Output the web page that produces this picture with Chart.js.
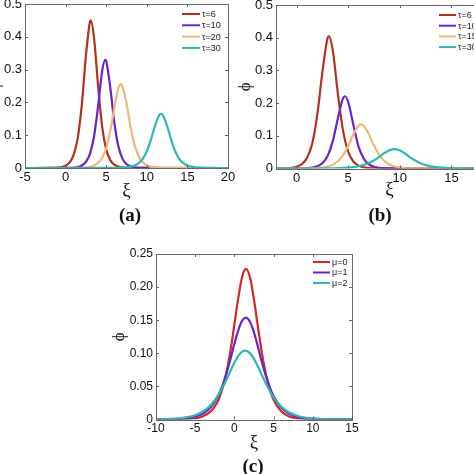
<!DOCTYPE html>
<html>
<head>
<meta charset="utf-8">
<script src="https://cdn.jsdelivr.net/npm/chart.js@4"></script>
<style>
  html, body { margin: 0; padding: 0; width: 474px; height: 474px; overflow: hidden; background: #fff; }
  canvas { position: absolute; }
  .plab { position: absolute; font: bold 19px "Liberation Serif", "Times New Roman", serif; color: #111; transform: translate(-50%, -50%); white-space: nowrap; }
</style>
</head>
<body>
<canvas id="ca" width="280" height="236" style="left:-40px;top:-16px;width:280px;height:236px"></canvas>
<canvas id="cb" width="300" height="236" style="left:216px;top:-16px;width:300px;height:236px"></canvas>
<canvas id="cc" width="280" height="230" style="left:90px;top:234px;width:280px;height:230px"></canvas>
<div class="plab" style="left:130px;top:215px">(a)</div>
<div class="plab" style="left:380px;top:215px">(b)</div>
<div class="plab" style="left:253px;top:466px">(c)</div>
<script>
// ---------- Panel (a) ----------
const aLabels = ["τ=6", "τ=10", "τ=20", "τ=30"];
const aTau6X  = [-5, -2, -1.5, -1, -0.5, 0, 0.5, 1, 1.5, 2, 2.5, 3, 3.1, 3.5, 4, 4.5, 5, 5.5, 6, 6.5, 7, 7.5, 8, 9, 20];
const aTau6Y  = [0, 0.0002, 0.0005, 0.0012, 0.0029, 0.007, 0.017, 0.0405, 0.092, 0.194, 0.342, 0.446, 0.45, 0.397, 0.251, 0.126, 0.056, 0.024, 0.010, 0.0042, 0.0017, 0.0007, 0.0003, 0.0001, 0];
const aTau10X = [-5, 0, 0.5, 1, 1.5, 2, 2.5, 3, 3.5, 4, 4.5, 4.88, 5, 5.5, 6, 6.5, 7, 7.5, 8, 8.5, 9, 10, 11, 20];
const aTau10Y = [0, 0.0002, 0.0005, 0.0013, 0.0032, 0.0077, 0.0184, 0.043, 0.096, 0.187, 0.295, 0.33, 0.326, 0.246, 0.139, 0.066, 0.0287, 0.0121, 0.005, 0.002, 0.0008, 0.0002, 0, 0];
const aTau20X = [-5, 1, 2, 2.5, 3, 3.5, 4, 4.5, 5, 5.5, 6, 6.5, 6.8, 7, 7.5, 8, 8.5, 9, 9.5, 10, 10.5, 11, 12, 13, 20];
const aTau20Y = [0, 0.0002, 0.0008, 0.0016, 0.0035, 0.0074, 0.0151, 0.031, 0.061, 0.112, 0.183, 0.244, 0.256, 0.250, 0.197, 0.125, 0.070, 0.036, 0.0177, 0.0085, 0.0041, 0.0019, 0.0004, 0.0001, 0];
const aTau30X = [-5, 6, 7, 7.5, 8, 8.5, 9, 9.5, 10, 10.5, 11, 11.5, 11.75, 12, 12.5, 13, 13.5, 14, 14.5, 15, 15.5, 16, 16.5, 17.5, 20];
const aTau30Y = [0, 0.0003, 0.001, 0.002, 0.004, 0.0078, 0.015, 0.028, 0.051, 0.086, 0.128, 0.160, 0.165, 0.160, 0.128, 0.086, 0.051, 0.028, 0.015, 0.0078, 0.004, 0.002, 0.001, 0.0003, 0];

// ---------- Panel (b) ----------
const bLabels = ["τ=6", "τ=10", "τ=15", "τ=30"];
const bTau6X  = [-2, -1, -0.5, 0, 0.5, 1, 1.5, 2, 2.5, 3, 3.13, 3.5, 4, 4.5, 5, 5.5, 6, 6.5, 7, 7.5, 8, 20];
const bTau6Y  = [0.0001, 0.0009, 0.0022, 0.0055, 0.0133, 0.032, 0.075, 0.164, 0.296, 0.399, 0.405, 0.362, 0.228, 0.115, 0.0506, 0.0214, 0.0087, 0.0035, 0.0014, 0.0006, 0.0002, 0];
const bTau10X = [-2, 0, 0.5, 1, 1.5, 2, 2.5, 3, 3.5, 4, 4.5, 4.68, 5, 5.5, 6, 6.5, 7, 7.5, 8, 8.5, 9, 10, 20];
const bTau10Y = [0, 0.0002, 0.0004, 0.0011, 0.0027, 0.0067, 0.016, 0.038, 0.083, 0.154, 0.215, 0.221, 0.203, 0.133, 0.067, 0.0305, 0.0126, 0.0052, 0.0021, 0.0008, 0.0003, 0, 0];
const bTau15X = [-2, 1, 1.5, 2, 2.5, 3, 3.5, 4, 4.5, 5, 5.5, 6, 6.26, 6.5, 7, 7.5, 8, 8.5, 9, 9.5, 10, 10.5, 11, 12, 20];
const bTau15Y = [0, 0.0004, 0.0008, 0.0016, 0.0031, 0.0061, 0.0118, 0.0223, 0.041, 0.069, 0.105, 0.131, 0.135, 0.131, 0.105, 0.070, 0.042, 0.023, 0.012, 0.0062, 0.0032, 0.0016, 0.0008, 0.0002, 0];
const bTau30X = [-2, 3, 4, 5, 5.5, 6, 6.5, 7, 7.5, 8, 8.5, 9, 9.48, 10, 10.5, 11, 11.5, 12, 12.5, 13, 14, 15, 16, 20];
const bTau30Y = [0, 0.0004, 0.001, 0.0026, 0.0042, 0.0069, 0.0108, 0.0168, 0.0252, 0.0356, 0.0469, 0.0557, 0.059, 0.0552, 0.046, 0.0342, 0.0244, 0.0163, 0.0105, 0.0067, 0.0025, 0.0009, 0.0003, 0];

// ---------- Panel (c) ----------
const cLabels = ["μ=0", "μ=1", "μ=2"];
const cMu0X = [-10, -8, -7, -6, -5, -4, -3, -2.5, -2, -1.5, -1, -0.5, 0, 0.5, 1, 1.48, 2, 2.5, 3, 3.5, 4, 4.5, 5, 6, 7, 8, 9, 10, 12, 15];
const cMu0Y = [0, 0.0001, 0.0003, 0.0007, 0.0019, 0.0049, 0.0126, 0.0197, 0.0305, 0.0475, 0.0714, 0.104, 0.1436, 0.184, 0.216, 0.2275, 0.214, 0.181, 0.140, 0.1015, 0.0694, 0.0462, 0.0297, 0.0121, 0.0047, 0.0018, 0.0007, 0.0003, 0, 0];
const cMu1X = [-10, -8, -7, -6, -5, -4, -3, -2.5, -2, -1.5, -1, -0.5, 0, 0.5, 1, 1.45, 2, 2.5, 3, 3.5, 4, 4.5, 5, 6, 7, 8, 9, 10, 12, 15];
const cMu1Y = [0.0001, 0.0004, 0.0009, 0.002, 0.0043, 0.009, 0.0189, 0.027, 0.0379, 0.052, 0.0705, 0.0916, 0.1144, 0.135, 0.1495, 0.154, 0.1472, 0.1314, 0.110, 0.0869, 0.0667, 0.049, 0.0354, 0.0176, 0.0085, 0.0039, 0.0018, 0.0008, 0.0002, 0];
const cMu2X = [-10, -8, -7, -6, -5, -4, -3, -2.5, -2, -1.5, -1, -0.5, 0, 0.5, 1, 1.38, 2, 2.5, 3, 3.5, 4, 4.5, 5, 6, 7, 8, 9, 10, 12, 15];
const cMu2Y = [0.0003, 0.001, 0.0019, 0.0035, 0.0065, 0.0121, 0.022, 0.0291, 0.038, 0.0486, 0.0603, 0.0735, 0.0859, 0.0961, 0.1024, 0.104, 0.0999, 0.0915, 0.0799, 0.0673, 0.0546, 0.0433, 0.0333, 0.0191, 0.0106, 0.0057, 0.003, 0.0016, 0.0004, 0.0001];

const colorsTau = ["#b3311d", "#6a22cc", "#f2b679", "#2db7ae"];
const colorsMu  = ["#cf2a24", "#6a22cc", "#2db7ae"];

const TICK_FONT = "'Liberation Sans', Arial, sans-serif";
const TITLE_FONT = "'Liberation Serif', 'DejaVu Serif', serif";

function pts(xs, ys) { return xs.map((x, i) => ({ x: x, y: ys[i] })); }

const framePlugin = {
  id: 'frame',
  afterDatasetsDraw(chart) {
    const { ctx, chartArea: a, scales } = chart;
    ctx.save();
    ctx.strokeStyle = '#666';
    ctx.lineWidth = 1;
    ctx.strokeRect(Math.round(a.left) + 0.5, Math.round(a.top) + 0.5, Math.round(a.right - a.left), Math.round(a.bottom - a.top));
    const L = 3;
    ctx.beginPath();
    scales.x.ticks.forEach(t => {
      const px = Math.round(scales.x.getPixelForValue(t.value)) + 0.5;
      ctx.moveTo(px, a.bottom); ctx.lineTo(px, a.bottom - L);
      ctx.moveTo(px, a.top); ctx.lineTo(px, a.top + L);
    });
    scales.y.ticks.forEach(t => {
      const py = Math.round(scales.y.getPixelForValue(t.value)) + 0.5;
      ctx.moveTo(a.left, py); ctx.lineTo(a.left + L, py);
      ctx.moveTo(a.right, py); ctx.lineTo(a.right - L, py);
    });
    ctx.stroke();
    ctx.restore();
  }
};

const legendPlugin = {
  id: 'insideLegend',
  afterDraw(chart, args, o) {
    const { ctx, chartArea: a } = chart;
    ctx.save();
    ctx.font = o.font;
    ctx.textBaseline = 'middle';
    ctx.textAlign = 'left';
    chart.data.datasets.forEach((ds, i) => {
      const x = a.left + o.dx;
      const y = a.top + o.dy + i * o.rowH;
      ctx.strokeStyle = ds.borderColor;
      ctx.lineWidth = 2;
      ctx.beginPath();
      ctx.moveTo(x, y); ctx.lineTo(x + o.lineLen, y);
      ctx.stroke();
      ctx.fillStyle = '#222';
      ctx.fillText(ds.label, x + o.lineLen + 2, y + 0.5);
    });
    ctx.restore();
  }
};

function makeChart(id, cfg) {
  const n = cfg.series.length;
  const datasets = cfg.series.map((s, i) => ({
    label: cfg.labels[i],
    data: pts(s[0], s[1]),
    borderColor: cfg.colors[i],
    backgroundColor: cfg.colors[i],
    borderWidth: 2.2,
    pointRadius: 0,
    fill: false,
    cubicInterpolationMode: 'monotone',
    order: n - 1 - i
  }));
  return new Chart(document.getElementById(id), {
    type: 'line',
    data: { datasets },
    plugins: [framePlugin, legendPlugin],
    options: {
      responsive: false,
      animation: false,
      devicePixelRatio: 1,
      layout: { padding: cfg.pad },
      plugins: {
        legend: { display: false },
        tooltip: { enabled: false },
        insideLegend: cfg.legend
      },
      scales: {
        x: {
          type: 'linear',
          min: cfg.xMin, max: cfg.xMax,
          afterFit: s => { s.height = cfg.xH; },
          border: { display: false },
          grid: { display: false, drawTicks: false },
          ticks: { stepSize: cfg.xStep, includeBounds: false, maxRotation: 0, autoSkip: false, padding: 2, color: '#111', font: { family: TICK_FONT, size: cfg.tickSize } },
          title: { display: true, text: 'ξ', color: '#111', font: { family: TITLE_FONT, size: 19 }, padding: { top: 0, bottom: cfg.xTitlePad } }
        },
        y: {
          type: 'linear',
          min: 0, max: cfg.yMax,
          afterFit: s => { s.width = cfg.yW; },
          border: { display: false },
          grid: { display: false, drawTicks: false },
          ticks: { stepSize: cfg.yStep, autoSkip: false, padding: 3, color: '#111', font: { family: TICK_FONT, size: cfg.tickSize } },
          title: { display: true, text: 'ϕ', color: '#111', font: { family: TITLE_FONT, size: 17 }, padding: { top: cfg.yTitlePad, bottom: 0 } }
        }
      }
    }
  });
}

makeChart('ca', {
  labels: aLabels, colors: colorsTau,
  series: [[aTau6X, aTau6Y], [aTau10X, aTau10Y], [aTau20X, aTau20Y], [aTau30X, aTau30Y]],
  xMin: -5, xMax: 20, xStep: 5, yMax: 0.5, yStep: 0.1,
  pad: { left: 0, right: 12, top: 20, bottom: 0 }, yW: 65, xH: 52,
  xTitlePad: 17.6, yTitlePad: 24.8, tickSize: 13,
  legend: { dx: 157, dy: 10, rowH: 11.3, lineLen: 18, font: "9px 'Liberation Sans', Arial, sans-serif" }
});

makeChart('cb', {
  labels: bLabels, colors: colorsTau,
  series: [[bTau6X, bTau6Y], [bTau10X, bTau10Y], [bTau15X, bTau15Y], [bTau30X, bTau30Y]],
  xMin: -2, xMax: 20, xStep: 5, yMax: 0.5, yStep: 0.1,
  pad: { left: 0, right: 13, top: 21, bottom: 0 }, yW: 60, xH: 51.5,
  xTitlePad: 18.1, yTitlePad: 19.8, tickSize: 13,
  legend: { dx: 163, dy: 10, rowH: 10.7, lineLen: 17, font: "9px 'Liberation Sans', Arial, sans-serif" }
});

makeChart('cc', {
  labels: cLabels, colors: colorsMu,
  series: [[cMu0X, cMu0Y], [cMu1X, cMu1Y], [cMu2X, cMu2Y]],
  xMin: -10, xMax: 15, xStep: 5, yMax: 0.25, yStep: 0.05,
  pad: { left: 0, right: 18, top: 20, bottom: 0 }, yW: 66, xH: 44.5,
  xTitlePad: 9.6, yTitlePad: 19.8, tickSize: 12,
  legend: { dx: 157, dy: 8, rowH: 10.5, lineLen: 17, font: "9px 'Liberation Sans', Arial, sans-serif" }
});
</script>
</body>
</html>
